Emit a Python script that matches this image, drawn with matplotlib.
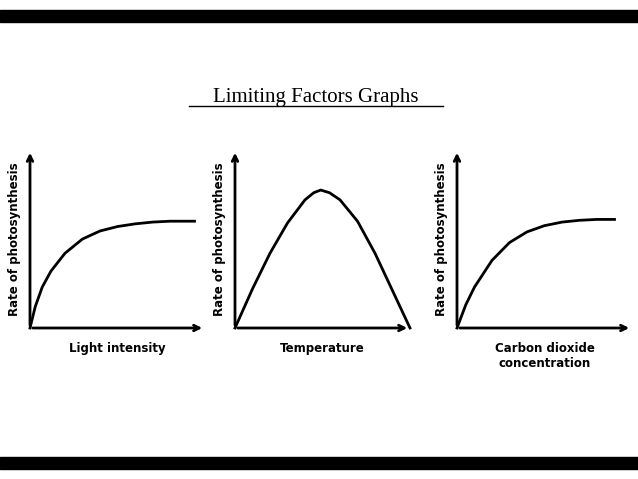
import matplotlib
matplotlib.use("Agg")
import matplotlib.pyplot as plt
import numpy as np

W, H = 638, 479
title = "Limiting Factors Graphs"
ylabel = "Rate of photosynthesis"
xlabels = ["Light intensity", "Temperature", "Carbon dioxide\nconcentration"]

light_x = [0, 0.3, 0.7, 1.2, 2, 3, 4, 5, 6, 7, 8, 9.4]
light_y = [0, 1.2, 2.3, 3.2, 4.2, 5.0, 5.45, 5.7, 5.85, 5.95, 6.0, 6.0]
temp_x = [0, 1, 2, 3, 4, 4.5, 4.9, 5.4, 6, 7, 8, 9, 10]
temp_y = [0, 2.2, 4.2, 5.9, 7.2, 7.6, 7.75, 7.6, 7.2, 6.0, 4.2, 2.1, 0]
co2_x = [0, 0.5, 1, 2, 3, 4, 5, 6, 7, 8, 9.0]
co2_y = [0, 1.3, 2.3, 3.8, 4.8, 5.4, 5.75, 5.95, 6.05, 6.1, 6.1]
curves = [(light_x, light_y), (temp_x, temp_y), (co2_x, co2_y)]
origins_px = [30, 235, 457]

fig = plt.figure(figsize=(W/100, H/100), dpi=100)
bg = fig.add_axes([0, 0, 1, 1]); bg.set_xlim(0, W); bg.set_ylim(H, 0); bg.axis("off")
bg.fill_between([0, W], 10, 22, color="black")
bg.fill_between([0, W], 457, 469, color="black")
bg.text(316, 97, title, ha="center", va="center", fontsize=15, family="Liberation Serif")
bg.plot([189, 443], [106, 106], color="black", lw=1)

for i, ((cx, cy), ox) in enumerate(zip(curves, origins_px)):
    ax = fig.add_axes([ox/W, (H-328)/H, 175/W, 178/H])
    ax.set_xlim(0, 10); ax.set_ylim(0, 10); ax.axis("off")
    ax.annotate("", xy=(0, 10), xytext=(0, 0), arrowprops=dict(arrowstyle="->", lw=2, color="black"), annotation_clip=False)
    ax.annotate("", xy=(10, 0), xytext=(0, 0), arrowprops=dict(arrowstyle="->", lw=2, color="black"), annotation_clip=False)
    ax.plot(cx, cy, color="black", lw=2, clip_on=False)
    ax.text(-0.09, 0.5, ylabel, transform=ax.transAxes, rotation=90, ha="center", va="center", fontsize=8.5, fontweight="bold")
    ax.text(0.5, -0.08, xlabels[i], transform=ax.transAxes, ha="center", va="top", fontsize=8.5, fontweight="bold", linespacing=1.2)

fig.savefig("out.png", dpi=100)
